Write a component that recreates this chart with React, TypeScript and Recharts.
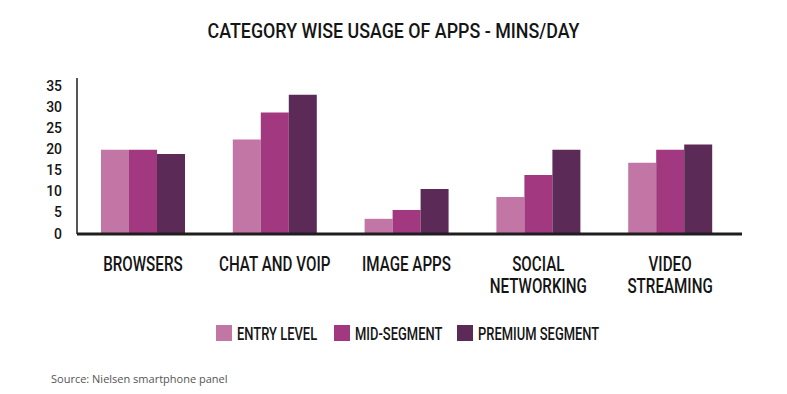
import { Bar, BarChart, XAxis, YAxis } from "recharts";

const categories = ["BROWSERS", "CHAT AND VOIP", "IMAGE APPS", "SOCIAL\nNETWORKING", "VIDEO\nSTREAMING"];
const entryLevel = [20, 22.4, 3.6, 8.8, 16.9];
const midSegment = [20, 28.8, 5.7, 14, 20];
const premiumSegment = [19, 33, 10.7, 20, 21.2];
const yTicks = [0, 5, 10, 15, 20, 25, 30, 35];

const series = [
  { key: "entry", name: "ENTRY LEVEL", color: "#c276a6" },
  { key: "mid", name: "MID-SEGMENT", color: "#a2387f" },
  { key: "premium", name: "PREMIUM SEGMENT", color: "#5b2a56" },
];

const data = categories.map((label, i) => ({
  label,
  entry: entryLevel[i],
  mid: midSegment[i],
  premium: premiumSegment[i],
}));

// no condensed font installed, so Roboto gets squeezed horizontally
const font = "Roboto, sans-serif";
const legendX = [216, 334, 457];

function CategoryTick({ x, y, payload }: any) {
  const lines = String(payload.value).split("\n");
  return (
    <g transform={`translate(${x},${y})`}>
      <text transform="scale(0.76,1)" textAnchor="middle" fill="#151515" fontSize={20} fontWeight={500} fontFamily={font}>
        {lines.map((line, i) => (
          <tspan key={i} x={0} y={35 + i * 22}>
            {line}
          </tspan>
        ))}
      </text>
    </g>
  );
}

function ValueTick({ x, y, payload }: any) {
  return (
    <g transform={`translate(${x - 13},${y + 4.5})`}>
      <text transform="scale(0.9,1)" textAnchor="end" fill="#151515" fontSize={15.5} fontWeight={500} fontFamily={font}>
        {payload.value}
      </text>
    </g>
  );
}

export default function App() {
  return (
    <div style={{ position: "absolute", left: 0, top: 0, width: 787, height: 394, background: "#fff" }}>
      <BarChart
        width={787}
        height={394}
        data={data}
        margin={{ top: 78, right: 45, bottom: 100, left: 47 }}
        barCategoryGap={24}
        barGap={0}
      >
        <XAxis
          dataKey="label"
          tick={<CategoryTick />}
          tickLine={false}
          tickSize={0}
          axisLine={{ stroke: "#1e1e1e", strokeWidth: 3 }}
          padding={{ left: 0, right: 6 }}
          height={60}
          interval={0}
        />
        <YAxis
          domain={[0, 37]}
          ticks={yTicks}
          interval={0}
          width={30}
          tickLine={false}
          tickSize={0}
          axisLine={{ stroke: "#1e1e1e", strokeWidth: 1.5 }}
          tick={<ValueTick />}
        />
        {series.map((s) => (
          <Bar key={s.key} dataKey={s.key} name={s.name} fill={s.color} isAnimationActive={false} />
        ))}
      </BarChart>
      <svg width={787} height={394} style={{ position: "absolute", left: 0, top: 0, pointerEvents: "none" }}>
        <g transform="translate(393.5,38)">
          <text transform="scale(0.85,1)" textAnchor="middle" fill="#151515" fontSize={21} fontWeight={500} fontFamily={font}>
            CATEGORY WISE USAGE OF APPS - MINS/DAY
          </text>
        </g>
        {series.map((s, i) => (
          <g key={s.key} transform={`translate(${legendX[i]},325)`}>
            <rect x={0} y={0} width={16} height={16} fill={s.color} />
            <g transform="translate(21,15)">
              <text transform="scale(0.72,1)" fill="#151515" fontSize={18} fontWeight={500} fontFamily={font}>
                {s.name}
              </text>
            </g>
          </g>
        ))}
      </svg>
      <div
        style={{
          position: "absolute",
          left: 51,
          top: 371,
          fontFamily: "'Open Sans', sans-serif",
          fontSize: 11,
          color: "#555",
        }}
      >
        Source: Nielsen smartphone panel
      </div>
    </div>
  );
}
